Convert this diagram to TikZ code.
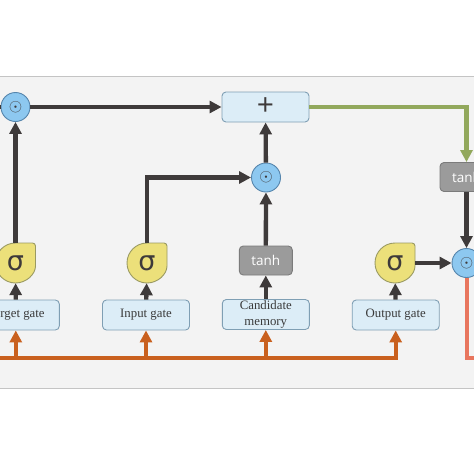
\documentclass[tikz,border=0pt]{standalone}
\usepackage{fontspec}
\setmainfont{Liberation Serif}
\newfontfamily\gatefont{Open Sans}
\newfontfamily\sigfont{DejaVu Sans}
\usepackage{tikz}
\usetikzlibrary{arrows.meta,positioning,calc}

\definecolor{panelgrey}{HTML}{F3F3F3}
\definecolor{panelrule}{HTML}{C4C4C4}
\definecolor{darkline}{HTML}{3E3A3A}
\definecolor{multfill}{HTML}{8DC8F0}
\definecolor{multline}{HTML}{5585AC}
\definecolor{boxfill}{HTML}{DCEDF7}
\definecolor{boxline}{HTML}{7F9FB4}
\definecolor{tanhfill}{HTML}{9B9B9B}
\definecolor{tanhline}{HTML}{7B7B7B}
\definecolor{sigfill}{HTML}{ECE07A}
\definecolor{sigline}{HTML}{9A9A62}
\definecolor{busorange}{HTML}{C9601E}
\definecolor{cellgreen}{HTML}{92A85C}
\definecolor{outred}{HTML}{E8765E}
\definecolor{textgrey}{HTML}{3A3A3A}

\begin{document}
\begin{tikzpicture}[
  x=10pt, y=10pt,
  mult/.style={circle, draw=multline, fill=multfill, line width=0.9pt,
    minimum size=29pt, inner sep=0pt, text=darkline, font=\fontsize{17}{17}\selectfont},
  gatebox/.style={draw=boxline, fill=boxfill, rounded corners=4pt, line width=0.9pt,
    minimum width=87pt, minimum height=30pt, inner sep=0pt, align=center,
    text=textgrey, font=\fontsize{12.8}{16}\selectfont},
  actbox/.style={draw=tanhline, fill=tanhfill, rounded corners=4pt, line width=0.9pt,
    minimum width=53pt, minimum height=29pt, inner sep=0pt, text=white,
    font=\gatefont\fontsize{13.5}{14}\selectfont},
  sig/.style={circle, minimum size=40pt, inner sep=0pt, text=darkline,
    font=\sigfont\fontsize{27}{27}\selectfont},
  sigshape/.style={draw=sigline, fill=sigfill, line width=0.9pt, rounded corners=3pt},
  arr/.style={-{Triangle[length=12pt,width=12pt]}, line width=4.3pt, draw=darkline},
  busarr/.style={-{Triangle[length=12pt,width=12pt]}, line width=4pt, draw=busorange},
  cellarr/.style={-{Triangle[length=12pt,width=12pt]}, line width=4.3pt, draw=cellgreen},
  outline/.style={line width=4pt, draw=outred}
]
\useasboundingbox (0,0) rectangle (47.4,-47.4);
\clip (0,0) rectangle (47.4,-47.4);

% panel
\fill[panelgrey] (0,-7.65) rectangle (47.4,-38.85);
\draw[panelrule, line width=1.8pt] (0,-7.65) -- (47.4,-7.65);
\draw[panelrule, line width=1.8pt] (0,-38.85) -- (47.4,-38.85);

% sigmoid shapes
\foreach \x in {1.55,14.7,39.5}
  \draw[sigshape] (\x,-24.3) -- (\x+2,-24.3) -- (\x+2,-26.3)
    arc[start angle=0, end angle=-270, radius=2];

% nodes
\node[mult]   (mf)   at (1.55,-10.7)  {$\odot$};
\node[gatebox, text=darkline] (plus) at (26.55,-10.7)
  {\gatefont\fontsize{30}{30}\selectfont +};
\node[mult]   (mi)   at (26.6,-17.75) {$\odot$};
\node[actbox] (th2)  at (46.65,-17.7) {tanh};
\node[mult]   (mo)   at (46.65,-26.3) {$\odot$};

\node[sig]    (sf)   at (1.55,-26.3)  {σ};
\node[sig]    (si)   at (14.7,-26.3)  {σ};
\node[actbox] (tc)   at (26.58,-26.05) {tanh};
\node[sig]    (so)   at (39.5,-26.3)  {σ};

\node[gatebox] (bf)  at (1.58,-31.5)  {Forget gate};
\node[gatebox] (bi)  at (14.6,-31.5)  {Input gate};
\node[gatebox] (bc)  at (26.58,-31.45) {Candidate\\memory};
\node[gatebox] (bo)  at (39.57,-31.5) {Output gate};

\coordinate (cin)  at (0,-10.7);
\coordinate (bus)  at (0,-35.78);
\coordinate (hout) at (47.4,-35.78);

% cell state
\draw[line width=4.3pt, draw=darkline] (cin) -- (mf.west);
\draw[arr] (mf) -- (plus);
\draw[arr] (sf) -- (mf);
\draw[arr] (si.north) |- (mi);
\draw[arr] (tc) -- (mi);
\draw[arr] (mi) -- (plus);
\draw[cellarr] (plus.east) -| (th2.north);
\draw[arr] (th2) -- (mo);
\draw[arr] (so) -- (mo);
\draw[outline] (mo.south) |- (hout);

% gates
\foreach \g/\s in {bf/sf, bi/si, bc/tc, bo/so}
  \draw[arr] (\g) -- (\s);

% input bus
\draw[busarr] (bus) -| (bo.south);
\foreach \g in {bf,bi,bc}
  \draw[busarr] (bus -| \g.south) -- (\g.south);
\end{tikzpicture}
\end{document}
